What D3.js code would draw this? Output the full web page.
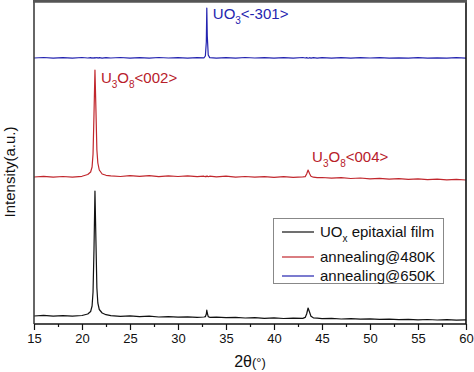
<!DOCTYPE html>
<html>
<head>
<meta charset="utf-8">
<script src="https://d3js.org/d3.v7.min.js"></script>
<style>
  body { margin: 0; background: #fff; }
  text { font-family: "Liberation Sans", Arial, sans-serif; }
</style>
</head>
<body>
<script>

// 2theta sampling points (shared by the three patterns)
var angles = [15, 16, 17, 18, 19, 20,
	20.6, 20.9, 21.05, 21.15, 21.25, 21.35, 21.45, 21.55, 21.65, 21.8, 22.1, 22.5,
	23, 24, 25, 26, 27, 28, 29, 30, 31, 32,
	32.7, 32.85, 32.95, 33.0, 33.05, 33.15, 33.3,
	34, 35, 36, 37, 38, 39, 40, 41, 42, 43,
	43.25, 43.4, 43.55, 43.7, 43.85, 44.1, 44.5,
	45, 46, 47, 48, 49, 50, 51, 52, 53, 54, 55, 56, 57, 58, 59, 60];

// intensities (a.u., already stacked with offsets as in the figure)
var filmValues = [8, 8.6, 7.9, 8.4, 7.8, 8.5,
	10, 12.5, 18, 32, 75, 133, 84, 36, 21, 14.5, 11, 9.3,
	8.4, 7.6, 8.1, 7.3, 7.8, 7.0, 7.4, 6.8, 7.2, 6.6,
	7.0, 7.3, 10, 14, 11, 7.4, 6.7,
	6.9, 6.3, 6.7, 6.0, 6.4, 5.7, 6.1, 5.5, 5.9, 5.6,
	6.6, 10, 16, 12, 7.8, 6.2, 5.8,
	5.3, 5.6, 5.0, 5.4, 4.8, 5.1, 4.6, 4.9, 4.3, 4.7, 4.2, 4.5, 4.0, 4.4, 3.9, 4.1];

var anneal480Values = [147, 147.6, 146.8, 147.5, 146.9, 147.7,
	149.5, 152, 157, 170, 210, 254, 215, 174, 161, 154, 150, 148.7,
	148.2, 147.5, 148.4, 147.6, 148.3, 147.4, 148.2, 147.5, 148.1, 147.3,
	147.8, 147.2, 147.9, 147.4, 147.9, 147.3, 147.8,
	147.1, 147.8, 146.9, 147.5, 146.8, 147.4, 146.7, 147.3, 146.6, 147.1,
	147.4, 150, 154, 150.5, 147.8, 146.8, 146.3,
	146.5, 145.8, 146.3, 145.5, 146.0, 145.2, 145.7, 144.9, 145.4, 144.6, 145.1, 144.4, 144.9, 144.2, 144.6, 144.0];

var anneal650Values = [266, 266.5, 265.8, 266.4, 265.9, 266.5,
	266.0, 266.4, 265.9, 266.3, 265.8, 266.4, 266.0, 266.5, 265.9, 266.3, 265.8, 266.4,
	266.0, 266.5, 265.9, 266.4, 265.8, 266.5, 266.0, 266.4, 265.9, 266.3,
	266.2, 268, 282, 316, 288, 269, 266.4,
	265.9, 266.4, 265.8, 266.5, 266.0, 266.3, 265.8, 266.4, 265.9, 266.5,
	266.0, 266.4, 265.8, 266.3, 265.9, 266.4, 265.8,
	266.3, 265.9, 266.4, 265.8, 266.3, 266.0, 266.4, 265.8, 266.2, 265.9, 266.4, 265.8, 266.2, 265.9, 266.3, 265.8];

var seriesNames = ["UO", "annealing@480K", "annealing@650K"];
var seriesColors = ["#111111", "#c1272d", "#2424b0"];
var xTicks = [15, 20, 25, 30, 35, 40, 45, 50, 55, 60];
var xMinorTicks = [17.5, 22.5, 27.5, 32.5, 37.5, 42.5, 47.5, 52.5, 57.5];

var width = 474;
var height = 372;

var svgContainer = d3.select("body").append("svg")
	.attr("width", width)
	.attr("height", height);

var plotLeft = 34, plotRight = 466, plotTop = 2, plotBottom = 324;

var x = d3.scaleLinear().domain([15, 60]).range([plotLeft, plotRight]);
var y = d3.scaleLinear().domain([0, 322]).range([plotBottom, plotTop]);

// clip so the traces stay inside the frame
svgContainer.append("clipPath")
	.attr("id", "plotclip")
	.append("rect")
	.attr("x", plotLeft)
	.attr("y", plotTop)
	.attr("width", plotRight - plotLeft)
	.attr("height", plotBottom - plotTop);

var line = d3.line()
	.x(function(d) { return x(d[0]); })
	.y(function(d) { return y(d[1]); });

var allSeries = [filmValues, anneal480Values, anneal650Values];

svgContainer.append("g")
	.attr("clip-path", "url(#plotclip)")
	.selectAll("path")
	.data(allSeries)
	.enter()
	.append("path")
	.attr("d", function(vals) {
		return line(angles.map(function(a, i) { return [a, vals[i]]; }));
	})
	.attr("fill", "none")
	.attr("stroke", function(d, i) { return seriesColors[i]; })
	.attr("stroke-width", 1.2)
	.attr("stroke-linejoin", "round");

// bottom axis, outward ticks
var xAxis = svgContainer.append("g")
	.attr("transform", "translate(0," + plotBottom + ")")
	.call(d3.axisBottom(x).tickValues(xTicks).tickSize(6).tickPadding(4).tickFormat(d3.format("d")));

xAxis.select(".domain").remove();
xAxis.selectAll("line").attr("stroke", "#111").attr("stroke-width", 1.2);
xAxis.selectAll("text")
	.attr("fill", "#111")
	.style("font-size", "13px")
	.style("font-family", "'Liberation Sans', Arial, sans-serif");

svgContainer.append("g")
	.attr("transform", "translate(0," + plotBottom + ")")
	.call(d3.axisBottom(x).tickValues(xMinorTicks).tickSize(3).tickFormat(""))
	.call(function(g) { g.select(".domain").remove(); })
	.selectAll("line").attr("stroke", "#111").attr("stroke-width", 1.2);

// frame
svgContainer.append("line")
	.attr("x1", plotLeft).attr("x2", plotRight)
	.attr("y1", plotBottom).attr("y2", plotBottom)
	.attr("stroke", "#111").attr("stroke-width", 1.5);
svgContainer.append("line")
	.attr("x1", plotLeft).attr("x2", plotLeft)
	.attr("y1", 0).attr("y2", plotBottom)
	.attr("stroke", "#333").attr("stroke-width", 1.5);
svgContainer.append("line")
	.attr("x1", plotRight).attr("x2", plotRight)
	.attr("y1", 0).attr("y2", plotBottom)
	.attr("stroke", "#111").attr("stroke-width", 1.6);
svgContainer.append("line")
	.attr("x1", plotLeft - 1).attr("x2", plotRight + 1)
	.attr("y1", 1.2).attr("y2", 1.2)
	.attr("stroke", "#555").attr("stroke-width", 3);

// axis titles
var xTitle = svgContainer.append("text")
	.attr("x", (plotLeft + plotRight) / 2)
	.attr("y", 367)
	.attr("text-anchor", "middle")
	.attr("fill", "#111")
	.style("font-size", "16px");
xTitle.append("tspan").text("2\u03b8");
xTitle.append("tspan").style("font-size", "13px").text("(\u00b0)");

svgContainer.append("text")
	.attr("transform", "translate(15," + 172 + ") rotate(-90)")
	.attr("text-anchor", "middle")
	.attr("fill", "#111")
	.style("font-size", "15px")
	.text("Intensity(a.u.)");

// peak labels with subscripts
function peakLabel(px, py, parts, color) {
	var t = svgContainer.append("text")
		.attr("x", px)
		.attr("y", py)
		.attr("fill", color)
		.style("font-size", "15px");
	parts.forEach(function(p) {
		if (p.sub) {
			t.append("tspan").attr("dy", 5).style("font-size", "10px").text(p.s);
		} else {
			t.append("tspan").attr("dy", p.after ? -5 : 0).text(p.s);
		}
	});
}

peakLabel(x(33.0) + 6, 19, [{s: "UO"}, {s: "3", sub: true}, {s: "<-301>", after: true}], "#2424b0");
peakLabel(x(21.35) + 6, 83, [{s: "U"}, {s: "3", sub: true}, {s: "O", after: true}, {s: "8", sub: true}, {s: "<002>", after: true}], "#b8202a");
peakLabel(x(43.55) + 4, 162, [{s: "U"}, {s: "3", sub: true}, {s: "O", after: true}, {s: "8", sub: true}, {s: "<004>", after: true}], "#b8202a");

// legend
var legend = svgContainer.append("g");
legend.append("rect")
	.attr("x", 273.5).attr("y", 218.5)
	.attr("width", 170).attr("height", 65)
	.attr("fill", "#fff")
	.attr("stroke", "#888")
	.attr("stroke-width", 1);

var legendRows = [232, 257, 276];
legendRows.forEach(function(ry, i) {
	legend.append("line")
		.attr("x1", 282).attr("x2", 314)
		.attr("y1", ry).attr("y2", ry)
		.attr("stroke", seriesColors[i])
		.attr("stroke-width", 1.2);
	var t = legend.append("text")
		.attr("x", 320)
		.attr("y", ry + 5)
		.attr("fill", "#111")
		.style("font-size", "15px");
	if (i === 0) {
		t.append("tspan").text(seriesNames[0]);
		t.append("tspan").attr("dy", 5).style("font-size", "10px").text("x");
		t.append("tspan").attr("dy", -5).text(" epitaxial film");
	} else {
		t.text(seriesNames[i]);
	}
});

</script>
</body>
</html>
